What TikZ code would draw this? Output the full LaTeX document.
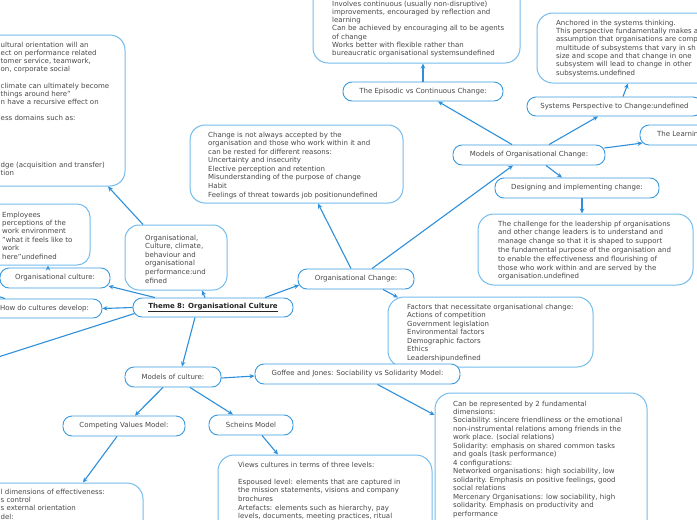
\documentclass[tikz,border=0pt]{standalone}
\usepackage{fontspec}
\setmainfont{DejaVu Sans}
\usetikzlibrary{arrows.meta}
\definecolor{linkblue}{HTML}{2E90DB}
\definecolor{bdsmall}{HTML}{3A9AE0}
\definecolor{bdbig}{HTML}{74BCEE}
\definecolor{txt}{HTML}{484848}
\begin{document}
\begin{tikzpicture}[x=1pt,y=-1pt,
  smallnode/.style={draw=bdsmall, line width=0.9pt, rounded corners=9pt, fill=white, inner sep=0pt, font=\fontsize{7}{8.5}\selectfont, text=txt},
  bigbox/.style={draw=bdbig, line width=1pt, rounded corners=15pt, fill=white, inner sep=0pt},
  boxtext/.style={anchor=north west, inner sep=0pt, align=left, text=txt, font=\fontsize{7}{8.5}\selectfont},
  link/.style={draw=linkblue, line width=1.1pt, -{Stealth[length=5pt,width=4.5pt]}},
  plainlink/.style={draw=linkblue, line width=1.1pt}]
\useasboundingbox (0,0) rectangle (697,520);
\clip (0,0) rectangle (697,520);
\fill[white] (0,0) rectangle (697,520);

% big boxes
\node[bigbox, minimum width=155pt, minimum height=151pt] (F1) at (47.5,110.5) {};
\node[boxtext, font=\fontsize{7}{8.2}\selectfont] (F1a) at (0.5,41.5) {ultural orientation will an\\ect on performance related\\tomer service, teamwork,\\on, corporate social\\~\\climate can ultimately become\\things around here"\\n have a recursive effect on\\~\\ess domains such as:};
\node[boxtext, font=\fontsize{7}{8.2}\selectfont] (F1b) at (0.5,161.5) {dge (acquisition and transfer)\\tion};

\node[bigbox, rounded corners=13pt, minimum width=110pt, minimum height=61pt] (F2) at (35,234.5) {};
\node[boxtext, font=\fontsize{7}{8.4}\selectfont] (F2t) at (2,211.5) {Employees\\perceptions of the\\work environment\\"what it feels like to\\work\\here"undefined};

\node[bigbox, rounded corners=14pt, minimum width=102pt, minimum height=65pt] (F5) at (176,257.5) {};
\node[boxtext, font=\fontsize{7}{8.6}\selectfont] (F5t) at (145,234.5) {Organisational,\\Culture, climate,\\behaviour and\\organisational\\performance:und\\efined};

\node[bigbox, minimum width=213pt, minimum height=78pt] (F7) at (296.5,164) {};
\node[boxtext, font=\fontsize{7}{8.57}\selectfont] (F7t) at (208,131.5) {Change is not always accepted by the\\organisation and those who work within it and\\can be rested for different reasons:\\Uncertainty and insecurity\\Elective perception and retention\\Misunderstanding of the purpose of change\\Habit\\Feelings of threat towards job positionundefined};

\node[bigbox, minimum width=207pt, minimum height=83pt] (F8) at (416.5,21.5) {};
\node[boxtext, font=\fontsize{7}{8.3}\selectfont] (F8t) at (332,0.5) {Involves continuous (usually non-disruptive)\\improvements, encouraged by reflection and\\learning\\Can be achieved by encouraging all to be agents\\of change\\Works better with flexible rather than\\bureaucratic organisational systemsundefined};

\node[bigbox, rounded corners=16pt, minimum width=203pt, minimum height=70pt] (F10) at (638.5,48) {};
\node[boxtext, font=\fontsize{7}{8.33}\selectfont] (F10t) at (556,19.5) {Anchored in the systems thinking.\\This perspective fundamentally makes a\\assumption that organisations are comp\\multitude of subsystems that vary in sh\\size and scope and that change in one\\subsystem will lead to change in other\\subsystems.undefined};

\node[bigbox, rounded corners=16pt, minimum width=215pt, minimum height=71pt] (F15) at (585.5,249.5) {};
\node[boxtext, font=\fontsize{7}{8.8}\selectfont] (F15t) at (498,220.5) {The challenge for the leadership pf organisations\\and other change leaders is to understand and\\manage change so that it is shaped to support\\the fundamental purpose of the organisation and\\to enable the effectiveness and flourishing of\\those who work within and are served by the\\organisation.undefined};

\node[bigbox, rounded corners=16pt, minimum width=205pt, minimum height=70pt] (F17) at (490.5,332) {};
\node[boxtext, font=\fontsize{7}{8.5}\selectfont] (F17t) at (407,303.5) {Factors that necessitate organisational change:\\Actions of competition\\Government legislation\\Environmental factors\\Demographic factors\\Ethics\\Leadershipundefined};

\node[bigbox, rounded corners=16pt, minimum width=203pt, minimum height=97pt] (F22) at (41.5,531.5) {};
\node[boxtext, font=\fontsize{7}{8.4}\selectfont] (F22t) at (0.5,488.5) {l dimensions of effectiveness:\\s control\\s external orientation\\del:};

\node[bigbox, rounded corners=16pt, minimum width=214pt, minimum height=125pt] (F23) at (325,517.5) {};
\node[boxtext, font=\fontsize{7}{8.6}\selectfont] (F23t) at (238,461.5) {Views cultures in terms of three levels:\\~\\Espoused level: elements that are captured in\\the mission statements, visions and company\\brochures\\Artefacts: elements such as hierarchy, pay\\levels, documents, meeting practices, ritual};

\node[bigbox, rounded corners=16pt, minimum width=212pt, minimum height=187pt] (F24) at (541,486.5) {};
\node[boxtext, font=\fontsize{7}{8.46}\selectfont] (F24t) at (453,400.5) {Can be represented by 2 fundamental\\dimensions:\\Sociability: sincere friendliness or the emotional\\non-instrumental relations among friends in the\\work place. (social relations)\\Solidarity: emphasis on shared common tasks\\and goals (task performance)\\4 configurations:\\Networked organisations: high sociability, low\\solidarity. Emphasis on positive feelings, good\\social relations\\Mercenary Organisations: low sociability, high\\solidarity. Emphasis on productivity and\\performance};

% small nodes
\node[smallnode, minimum width=110pt, minimum height=20pt] (N3) at (55,278) {Organisational culture:};
\node[smallnode, minimum width=115pt, minimum height=19pt] (N4) at (44.5,308.5) {How do cultures develop:};
\node[smallnode, minimum width=160pt, minimum height=19pt, text=black!85] (N6) at (213,307.5) {\textbf{\underline{Theme 8: Organisational Culture}}};
\node[smallnode, minimum width=160pt, minimum height=19pt] (N9) at (423,91.5) {The Episodic vs Continuous Change:};
\node[smallnode, minimum width=175pt, minimum height=19pt] (N11) at (614.5,106.5) {Systems Perspective to Change:undefined};
\node[smallnode, minimum width=152pt, minimum height=20pt] (N12) at (529,155) {Models of Organisational Change:};
\node[smallnode, minimum width=140pt, minimum height=20pt] (N13) at (710,135) {};
\node[boxtext, anchor=west] (N13t) at (657,135) {The Learning};
\node[smallnode, minimum width=164pt, minimum height=20pt] (N14) at (577,188) {Designing and implementing change:};
\node[smallnode, minimum width=116pt, minimum height=20pt] (N16) at (356,279) {Organisational Change:};
\node[smallnode, minimum width=205pt, minimum height=20pt] (N18) at (357.5,374) {Goffee and Jones: Sociability vs Solidarity Model:};
\node[smallnode, minimum width=96pt, minimum height=20pt] (N19) at (173,377) {Models of culture:};
\node[smallnode, minimum width=122pt, minimum height=20pt] (N20) at (124,426) {Competing Values Model:};
\node[smallnode, minimum width=84pt, minimum height=20pt] (N21) at (251,425) {Scheins Model};

\coordinate (offA) at (-30,366);
\coordinate (offB) at (-15,292);

% connectors
\draw[link] ([xshift=-33pt]F5.north) -- ([xshift=60.5pt]F1.south);
\draw[link] ([xshift=-8pt]N6.north) -- ([xshift=26pt]F5.south);
\draw[link] ([xshift=-58pt]N6.north) -- ([xshift=-2pt,yshift=-8pt]N3.east);
\draw[link] ([xshift=-7pt]N3.north) -- ([xshift=13pt]F2.south);
\draw[link] (N6.west) -- (N4.east);
\draw[plainlink] ([xshift=2pt,yshift=-6pt]N6.west) -- (offA);
\draw[plainlink] (offB) -- ([xshift=-39.5pt]N4.north);
\draw[link] ([xshift=52pt]N6.north) -- ([xshift=1.5pt,yshift=-6pt]N16.west);
\draw[link] ([xshift=-5pt]N16.north) -- ([xshift=21.5pt]F7.south);
\draw[link] ([xshift=16pt]N16.north) -- ([xshift=-16pt]N12.south);
\draw[link] ([xshift=27pt]N16.south) -- ([xshift=-92.5pt,yshift=-1pt]F17.north);
\draw[link] ([xshift=-17pt]N12.north) -- ([xshift=15pt]N9.south);
\draw[link] (N9.north) -- ([xshift=6.5pt]F8.south);
\draw[link] ([xshift=20pt]N12.north) -- ([xshift=-16.5pt]N11.south);
\draw[link] ([xshift=8.5pt]N11.north) -- ([xshift=-10.5pt]F10.south);
\draw[link] ([xshift=-1pt,yshift=7pt]N12.east) -- ([xshift=3pt,yshift=-8pt]N13.west);
\draw[link] ([xshift=17pt]N12.south) -- ([xshift=-15pt]N14.north);
\draw[link] ([xshift=5pt]N14.south) -- ([xshift=-3.5pt]F15.north);
\draw[link] ([xshift=-18pt]N6.south) -- ([xshift=9pt]N19.north);
\draw[link] ([yshift=-1pt]N19.east) -- ([yshift=-2pt]N18.west);
\draw[link] ([xshift=-10pt]N19.south) -- ([xshift=11pt]N20.north);
\draw[link] ([xshift=17pt]N19.south) -- ([xshift=-18pt]N21.north);
\draw[link] ([xshift=-7pt]N20.south) -- ([xshift=41.5pt]F22.north);
\draw[link] ([xshift=11pt]N21.south) -- ([xshift=-47pt]F23.north);
\draw[link] ([xshift=20pt]N18.south) -- ([yshift=71.5pt]F24.west);
\end{tikzpicture}
\end{document}
